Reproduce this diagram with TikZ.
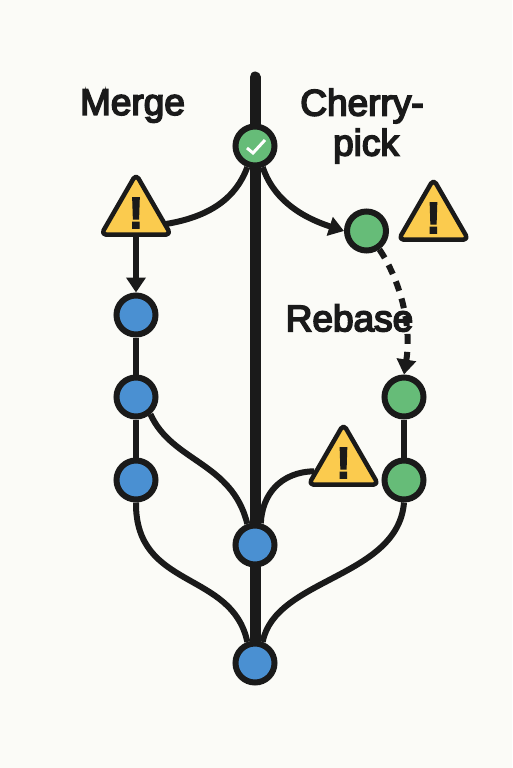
\documentclass[tikz,border=0pt]{standalone}
\usepackage{fontspec}
\setmainfont{Liberation Sans}
\font\labelfont="Liberation Sans:embolden=4.5" at 37pt
\font\warnfont="Liberation Sans/B:embolden=3" at 44pt
\usetikzlibrary{arrows.meta,backgrounds}
\definecolor{ink}{HTML}{1A1A1A}
\definecolor{paper}{HTML}{FBFBF7}
\definecolor{bluec}{HTML}{4A90D2}
\definecolor{greenc}{HTML}{66BC78}
\definecolor{yellowc}{HTML}{FBCB4E}
\newcommand{\warnface}[1]{\draw[warnfacestyle] ([shift={(0,-40.3)}]#1.center) -- ([shift={(34.9,20.15)}]#1.center) -- ([shift={(-34.9,20.15)}]#1.center) -- cycle;}
\tikzset{
  commit/.style={circle,draw=ink,line width=6pt,minimum size=39pt,inner sep=0pt},
  bluecommit/.style={commit,fill=bluec},
  greencommit/.style={commit,fill=greenc},
  warn/.style={circle,minimum size=60pt,inner sep=0pt,outer sep=0pt,text=ink,font=\warnfont},
  warnfacestyle/.style={draw=ink,fill=yellowc,line width=4.5pt,rounded corners=5pt,line join=round},
  link/.style={draw=ink,line width=6pt},
  trunk/.style={draw=ink,line width=11pt,line cap=round},
  head/.style={-{Triangle[length=15pt,width=19pt]}},
  lab/.style={text=ink,inner sep=0pt,font=\labelfont}
}
\begin{document}
\begin{tikzpicture}[x=1pt,y=-1pt]
\useasboundingbox (0,0) rectangle (512,768);
% commits
\node[greencommit] (top) at (255,146) {};
\node[greencommit] (cherry) at (366.5,231) {};
\node[greencommit] (g1) at (404,397) {};
\node[greencommit] (g2) at (404,480) {};
\node[bluecommit] (b1) at (136,315) {};
\node[bluecommit] (b2) at (136,397) {};
\node[bluecommit] (b3) at (136,480) {};
\node[bluecommit] (mid) at (255,545) {};
\node[bluecommit] (end) at (255,663) {};
% warnings
\node[warn] (w1) at (136,214.5) {\raisebox{3pt}{!}};
\node[warn] (w2) at (433.5,219.5) {\raisebox{3pt}{!}};
\node[warn] (w3) at (343.5,464.5) {\raisebox{3pt}{!}};
% check mark
\coordinate (c1) at ([shift={(-8,2)}]top.center);
\coordinate (c2) at ([shift={(-2,7)}]top.center);
\coordinate (c3) at ([shift={(10,-6)}]top.center);
\draw[white,line width=3pt] (c1) -- (c2) -- (c3);
% labels
\node[lab] (lm) at (132.5,106) {Merge};
\node[lab] (lc) at (362,106) {Cherry-};
\node[lab] (lp) at (366,146) {pick};
\node[lab] (lr) at (349.5,318) {Rebase};
\begin{scope}[on background layer]
\fill[paper] (0,0) rectangle (512,768);
\coordinate (tstart) at (255,77);
\draw[trunk] (tstart) -- (end.center);
\draw[link] (b1) -- (b2);
\draw[link] (b2) -- (b3);
\draw[link] (g1) -- (g2);
\draw[link] (top.250) .. controls (236,198) and (210,217) .. (w1.-19);
\draw[link] (b2.-50) .. controls (172,462) and (232,462) .. (mid.110);
\draw[link] (b3.-90) .. controls (135,590) and (232,570) .. (end.110);
\draw[link] (g2.-90) .. controls (398,578) and (275,578) .. (end.70);
\draw[link] (w3.-167) .. controls (280,472) and (262,495) .. (mid.75);
\draw[link,head] (w1.center) -- (b1.north);
\warnface{w1}
\warnface{w2}
\warnface{w3}
\end{scope}
\draw[link,head] (top.-70) .. controls (272,195) and (295,215) .. (cherry.180);
\draw[link,head,dash pattern=on 10pt off 8pt] (cherry.-55) .. controls (400,280) and (412,325) .. (g1.north);
\end{tikzpicture}
\end{document}
